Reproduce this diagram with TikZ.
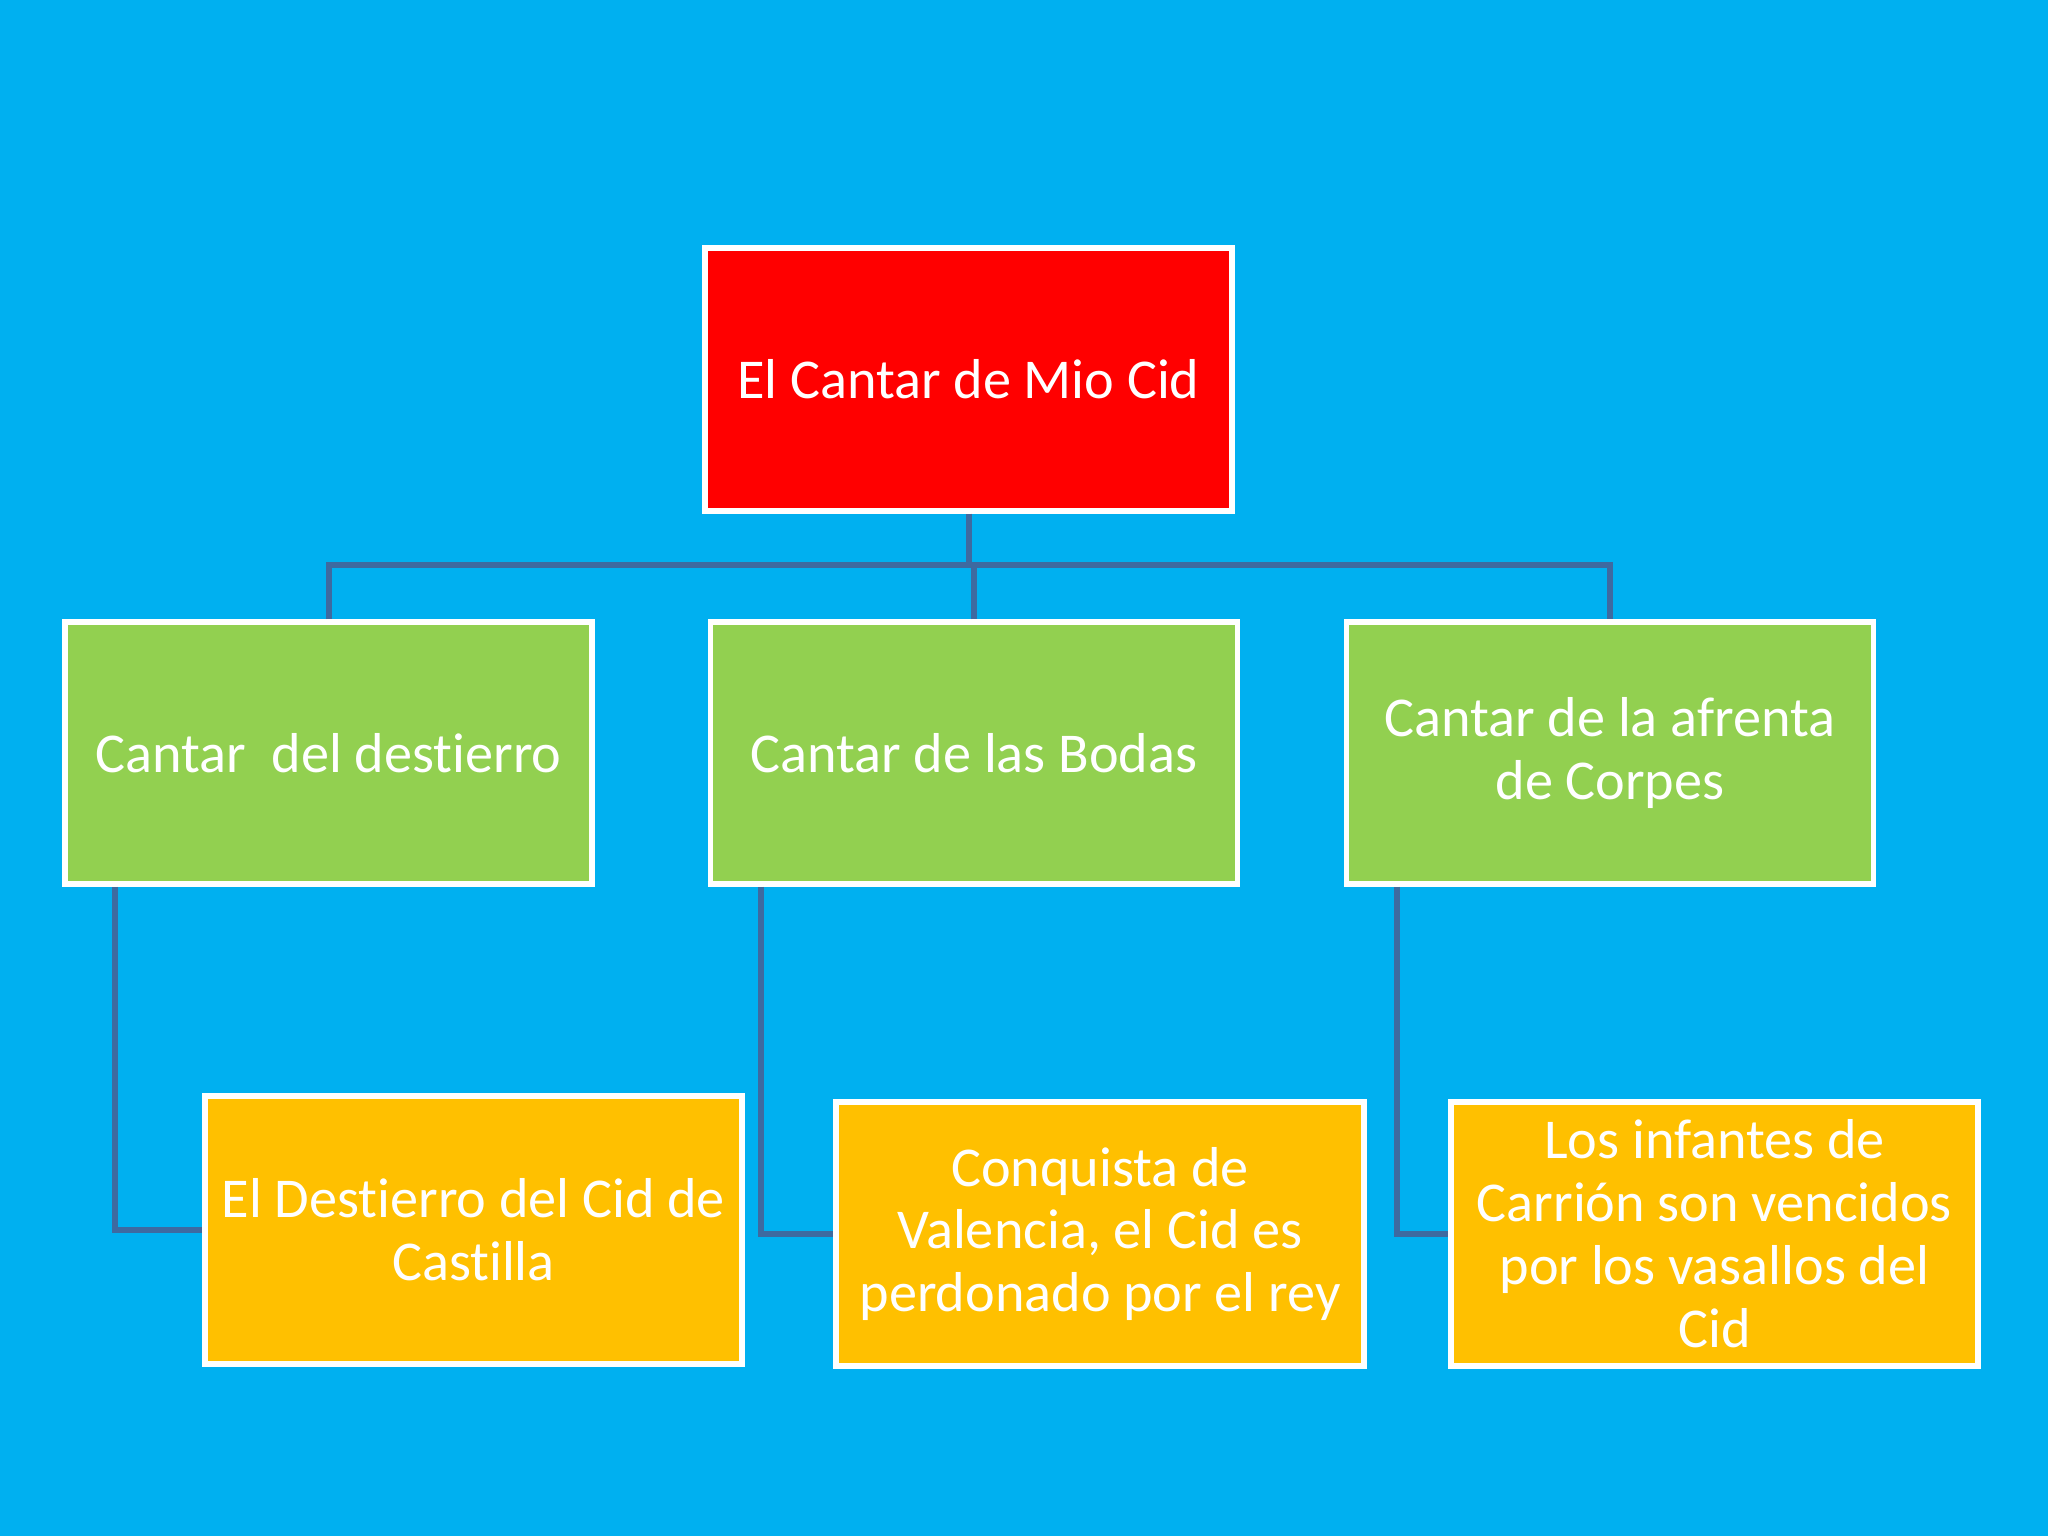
\documentclass[tikz,border=0pt]{standalone}
\usepackage{fontspec}
\setmainfont{Carlito}[RawFeature={-liga;-clig;-calt;-dlig}]
\usetikzlibrary{calc}
\definecolor{bgblue}{RGB}{0,176,240}
\definecolor{boxred}{RGB}{255,0,0}
\definecolor{boxgreen}{RGB}{146,208,80}
\definecolor{boxorange}{RGB}{255,192,0}
\definecolor{linkblue}{RGB}{62,106,160}
\tikzset{
  box/.style={draw=white, line width=0.55mm, text=white, align=center,
    minimum width=5.27cm, minimum height=2.63cm, inner sep=2pt,
    font=\fontsize{16}{17.9}\selectfont},
  redbox/.style={box, fill=boxred},
  greenbox/.style={box, fill=boxgreen},
  orangebox/.style={box, fill=boxorange},
  conn/.style={draw=linkblue, line width=0.6mm}
}
\begin{document}
\begin{tikzpicture}
\fill[bgblue] (0,0) rectangle (20.48,-15.36);
\useasboundingbox (0,0) rectangle (20.48,-15.36);

\node[redbox] (top) at (9.685,-3.795) {El Cantar de Mio Cid};

\node[greenbox, minimum height=2.62cm] (g1) at (3.285,-7.53) {Cantar\ \ del destierro};
\node[greenbox, minimum height=2.62cm] (g2) at (9.74,-7.53) {Cantar de las Bodas};
\node[greenbox, minimum height=2.62cm] (g3) at (16.10,-7.53) {Cantar de la afrenta\\de Corpes};

\node[orangebox, minimum width=5.37cm, minimum height=2.68cm] (o1) at (4.735,-12.30) {El Destierro del Cid de\\Castilla};
\node[orangebox, minimum width=5.28cm, minimum height=2.64cm] (o2) at (11.00,-12.34) {Conquista de\\Valencia, el Cid es\\perdonado por el rey};
\node[orangebox, minimum width=5.27cm, minimum height=2.64cm] (o3) at (17.145,-12.34) {Los infantes de\\Carrión son vencidos\\por los vasallos del\\Cid};

\coordinate (bus) at (9.685,-5.655);
\draw[conn] (top.south) -- (top.south |- bus);
\draw[conn] (g1.north) -- (g1.north |- bus) -| (g3.north);
\draw[conn] (g2.north) -- (g2.north |- bus);

\draw[conn] ($(g1.south west)+(0.525,0)$) |- (o1.west);
\draw[conn] ($(g2.south west)+(0.53,0)$) |- (o2.west);
\draw[conn] ($(g3.south west)+(0.53,0)$) |- (o3.west);
\end{tikzpicture}
\end{document}
